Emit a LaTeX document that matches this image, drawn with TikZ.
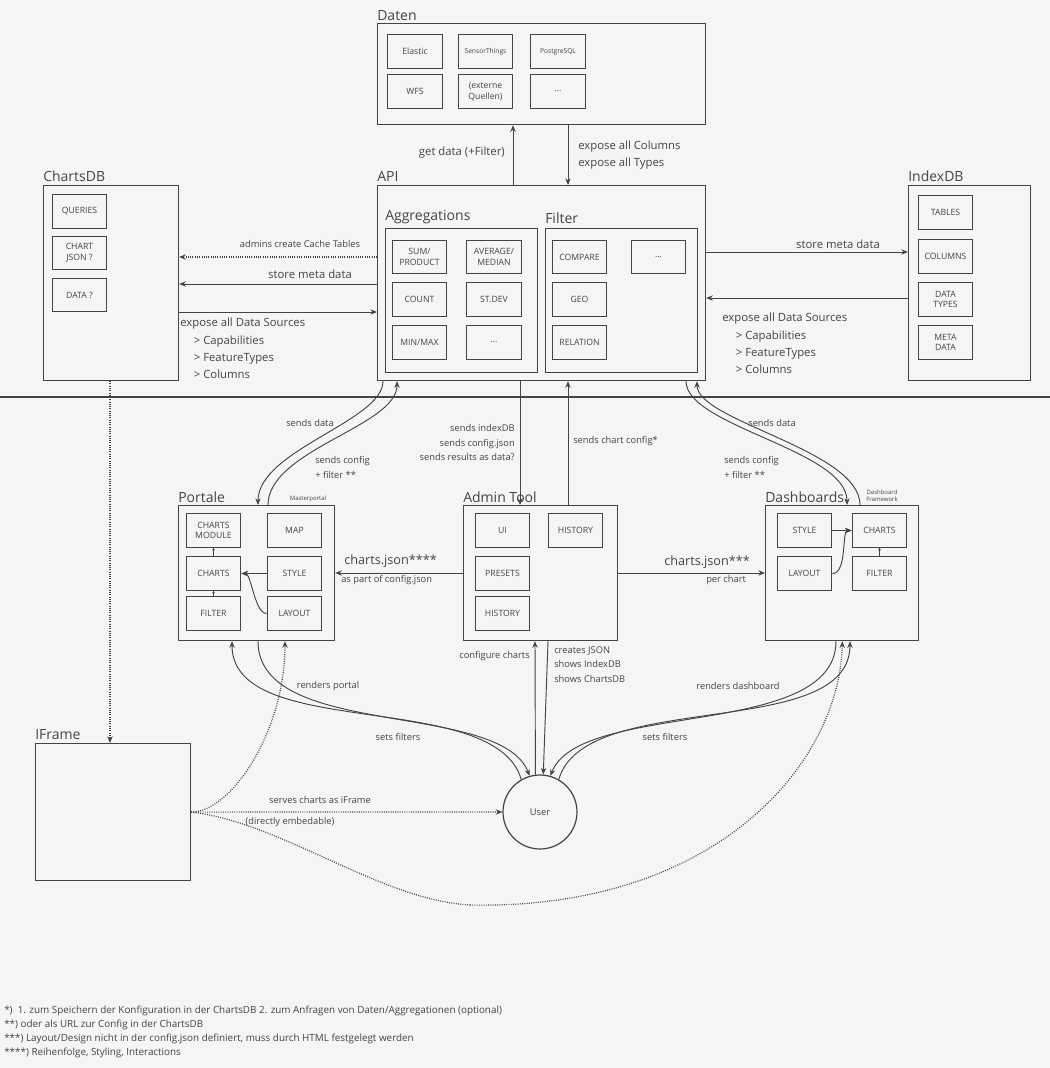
\documentclass[tikz,border=0pt]{standalone}
\usepackage{fontspec}
\setmainfont{Open Sans}
\usetikzlibrary{arrows.meta}
\definecolor{bg}{HTML}{F5F5F5}
\definecolor{ln}{HTML}{444444}
\begin{document}
\begin{tikzpicture}[x=0.75pt,y=-0.75pt,
  bx/.style 2 args={draw=ln,line width=0.9pt,minimum width=#1*0.75pt,minimum height=#2*0.75pt,anchor=north west,inner sep=0pt},
  ib/.style={draw=ln,line width=0.8pt,minimum width=41pt,minimum height=25pt,inner sep=1pt,align=center,font=\fontsize{6.5}{8}\selectfont,text=ln},
  ttl/.style={anchor=south west,inner sep=0pt,font=\fontsize{10.5}{12}\selectfont,text=ln},
  lbl/.style={inner sep=0pt,font=\fontsize{8.5}{13}\selectfont,text=ln,align=left},
  sl/.style={inner sep=0pt,font=\fontsize{7}{11}\selectfont,text=ln,align=left},
  tiny/.style={inner sep=0pt,font=\fontsize{4.5}{5.5}\selectfont,text=ln,align=center},
  arr/.style={draw=ln,line width=0.7pt,-{Stealth[length=5pt,width=4pt]}},
  dot/.style={arr,densely dotted,line width=0.9pt}]
\fill[bg] (0,0) rectangle (1050,1068);
\useasboundingbox (0,0) rectangle (1050,1068);
\draw[ln,line width=0.8pt] (0,397) -- (1050,397);

% Daten
\node[bx={328}{101}] (daten) at (377,23) {};
\node[ttl] (tdaten) at (377,21) {Daten};
\node[ib] (elastic) at (415,51.5) {Elastic};
\node[ib,font=\fontsize{5}{6}\selectfont] (sensor) at (485.5,51.5) {SensorThings};
\node[ib,font=\fontsize{5}{6}\selectfont] (pg) at (558,51.5) {PostgreSQL};
\node[ib] (wfs) at (415,91.5) {WFS};
\node[ib] (ext) at (485.5,91.5) {(externe\\Quellen)};
\node[ib] (dd) at (558,91.5) {...};

% API
\node[bx={328}{195}] (api) at (377,185) {};
\node[ttl] (tapi) at (377,182) {API};
\node[ttl] (tagg) at (385,224) {Aggregations};
\node[bx={152}{144}] (agg) at (385,228) {};
\node[ttl] (tfil) at (545,224) {Filter};
\node[bx={152}{144}] (fil) at (545,228) {};
\node[ib] (sum) at (419.5,257) {SUM/\\PRODUCT};
\node[ib] (avg) at (494,257) {AVERAGE/\\MEDIAN};
\node[ib] (count) at (419.5,299.5) {COUNT};
\node[ib] (stdev) at (494,299.5) {ST.DEV};
\node[ib] (minmax) at (419.5,342.5) {MIN/MAX};
\node[ib] (ad) at (494,342.5) {...};
\node[ib] (compare) at (579.5,257) {COMPARE};
\node[ib] (fd) at (658.5,257) {...};
\node[ib] (geo) at (579.5,299.5) {GEO};
\node[ib] (rel) at (579.5,342.5) {RELATION};

% ChartsDB
\node[bx={135}{195}] (cdb) at (43,185) {};
\node[ttl] (tcdb) at (43,182) {ChartsDB};
\node[ib] (queries) at (79.5,211.5) {QUERIES};
\node[ib] (cjson) at (79.5,253) {CHART\\JSON ?};
\node[ib] (cdata) at (79.5,295) {DATA ?};

% IndexDB
\node[bx={122}{195}] (idb) at (908,185) {};
\node[ttl] (tidb) at (908,182) {IndexDB};
\node[ib] (tables) at (945.5,212.5) {TABLES};
\node[ib] (columns) at (945.5,256.5) {COLUMNS};
\node[ib] (dtypes) at (945.5,299.5) {DATA\\TYPES};
\node[ib] (meta) at (945.5,342.5) {META\\DATA};

% Daten <-> API
\draw[arr] ([xshift=102pt]api.north west) -- ([xshift=102pt]daten.south west);
\draw[arr] ([xshift=143.25pt]daten.south west) -- ([xshift=143.25pt]api.north west);
\node[lbl,anchor=east] (lgd) at (505,153) {get data (+Filter)};
\node[lbl,anchor=west] (lex) at (578,155) {expose all Columns\\expose all Types};

% API <-> ChartsDB
\draw[dot] ([yshift=-54pt]api.north west) -- ([yshift=-54pt]cdb.north east);
\draw[arr] ([yshift=-74.25pt]api.north west) -- ([yshift=-74.25pt]cdb.north east);
\draw[arr] ([yshift=-95.25pt]cdb.north east) -- ([yshift=-95.25pt]api.north west);
\node[sl] (lcache) at (300,244) {admins create Cache Tables};
\node[lbl] (lstore1) at (310,274) {store meta data};
\node[lbl,anchor=north west] (lexp1) at (180,318) {expose all Data Sources\\\hspace*{1.2em}> Capabilities\\\hspace*{1.2em}> FeatureTypes\\\hspace*{1.2em}> Columns};

% API <-> IndexDB
\draw[arr] ([yshift=-50.25pt]api.north east) -- ([yshift=-50.25pt]idb.north west);
\draw[arr] ([yshift=-84.75pt]idb.north west) -- ([yshift=-84.75pt]api.north east);
\node[lbl] (lstore2) at (838,244) {store meta data};
\node[lbl,anchor=north west] (lexp2) at (722,313) {expose all Data Sources\\\hspace*{1.2em}> Capabilities\\\hspace*{1.2em}> FeatureTypes\\\hspace*{1.2em}> Columns};

% Portale
\node[bx={156}{135}] (portale) at (178,505) {};
\node[ttl] (tport) at (178,503) {Portale};
\node[tiny,anchor=south] (lmp) at (308,502) {Masterportal};
\node[ib] (pcm) at (213.5,530.5) {CHARTS\\MODULE};
\node[ib] (pmap) at (294.5,530.5) {MAP};
\node[ib] (pch) at (213.5,573.5) {CHARTS};
\node[ib] (psty) at (294.5,573.5) {STYLE};
\node[ib] (pfil) at (213.5,613.5) {FILTER};
\node[ib] (play) at (294.5,613.5) {LAYOUT};
\draw[arr,-{Stealth[length=2pt,width=2pt]}] (pch) -- (pcm);
\draw[arr,-{Stealth[length=2pt,width=2pt]}] (pfil) -- (pch);
\draw[arr] (psty) -- (pch);
\draw[arr] (play.west) .. controls +(-12,0) and +(10,0) .. (pch.east);

% Admin Tool
\node[bx={154}{135}] (admin) at (463,505) {};
\node[ttl] (tadm) at (463,503) {Admin Tool};
\node[ib] (ui) at (502.5,530.5) {UI};
\node[ib] (hist1) at (575.5,530.5) {HISTORY};
\node[ib] (presets) at (502.5,573.5) {PRESETS};
\node[ib] (hist2) at (502.5,613.5) {HISTORY};

% Dashboards
\node[bx={153}{135}] (dash) at (765,505) {};
\node[ttl] (tdash) at (765,503) {Dashboards};
\node[tiny,anchor=south] (ldf) at (882,502) {Dashboard\\Framework};
\node[ib] (dsty) at (804.5,530.5) {STYLE};
\node[ib] (dch) at (879.5,530.5) {CHARTS};
\node[ib] (dlay) at (804.5,573.5) {LAYOUT};
\node[ib] (dfil) at (879.5,573.5) {FILTER};
\draw[arr] (dsty) -- (dch);
\draw[arr] (dlay.east) .. controls +(15,0) and +(-10,0) .. (dch.west);
\draw[arr,-{Stealth[length=2pt,width=2pt]}] (dfil) -- (dch);

% Admin -> Portale / Dashboards
\draw[arr] ([yshift=-51pt]admin.north west) -- ([yshift=-51pt]portale.north east);
\draw[arr] ([yshift=-51pt]admin.north east) -- ([yshift=-51pt]dash.north west);
\node[lbl,anchor=west,font=\fontsize{9.5}{11}\selectfont] (lcj4) at (344,561) {charts.json****};
\node[sl,anchor=west] (lcj4b) at (341,580) {as part of config.json};
\node[lbl,anchor=west,font=\fontsize{9.5}{11}\selectfont] (lcj3) at (664,562) {charts.json***};
\node[sl,anchor=west] (lcj3b) at (706,580) {per chart};

% API <-> Admin
\draw[arr] ([xshift=107.25pt]api.south west) -- ([xshift=42.75pt]admin.north west);
\draw[arr] ([xshift=78.75pt]admin.north west) -- ([xshift=143.25pt]api.south west);
\node[sl,anchor=north east,align=right] (lsend) at (515,424) {sends indexDB\\sends config.json\\sends results as data?};
\node[sl,anchor=west] (lscc) at (573,441) {sends chart config*};

% API <-> Portale
\draw[arr] ([xshift=4.5pt]api.south west) .. controls +(0,40) and +(0,-55) .. ([xshift=60pt]portale.north west);
\draw[arr] ([xshift=67.5pt]portale.north west) .. controls +(0,-55) and +(0,45) .. ([xshift=15pt]api.south west);
\node[sl] (lsd1) at (310,423) {sends data};
\node[sl,anchor=north west] (lsc1) at (315,456) {sends config\\+ filter **};

% API <-> Dashboards
\draw[arr] ([xshift=231.75pt]api.south west) .. controls +(0,45) and +(0,-55) .. ([xshift=61.5pt]dash.north west);
\draw[arr] ([xshift=71.25pt]dash.north west) .. controls +(0,-55) and +(0,40) .. ([xshift=240pt]api.south west);
\node[sl] (lsd2) at (772,423) {sends data};
\node[sl,anchor=north west] (lsc2) at (724,456) {sends config\\+ filter **};

% User
\node[draw=ln,line width=0.9pt,circle,minimum size=55.5pt,inner sep=0pt,font=\fontsize{7}{9}\selectfont,text=ln] (user) at (540,812) {User};

% Portale <-> User
\draw[arr] ([xshift=60pt]portale.south west) .. controls (258,740) and (500,700) .. (user.106);
\draw[arr] (user.120) .. controls (495,688) and (232,742) .. ([xshift=40.5pt]portale.south west);
\node[sl] (lrp) at (328,686) {renders portal};
\node[sl] (lsf1) at (398,737) {sets filters};

% Admin <-> User
\draw[arr] (user.97) -- ([xshift=54pt]admin.south west);
\draw[arr] ([xshift=63.75pt]admin.south west) -- (user.85);
\node[sl,anchor=east] (lcc) at (530,656) {configure charts};
\node[sl,anchor=north west] (lcj) at (554,646) {creates JSON\\shows IndexDB\\shows ChartsDB};

% Dashboards <-> User
\draw[arr] ([xshift=53.25pt]dash.south west) .. controls (836,740) and (580,700) .. (user.74);
\draw[arr] (user.60) .. controls (585,688) and (850,742) .. ([xshift=63.75pt]dash.south west);
\node[sl] (lrd) at (738,686) {renders dashboard};
\node[sl] (lsf2) at (665,737) {sets filters};

% IFrame
\node[bx={155}{137}] (iframe) at (35,743) {};
\node[ttl] (tif) at (35,740) {IFrame};
\coordinate (cdbb) at ([xshift=50.25pt]cdb.south west);
\draw[dot] (cdbb) -- (cdbb |- iframe.north);
\draw[dot] (iframe.east) -- (user.west);
\node[sl] (lserve) at (320,800) {serves charts as iFrame};
\node[sl] (lemb) at (290,822) {(directly embedable)};
\draw[dot] (iframe.east) .. controls +(40,0) and +(0,90) .. ([xshift=80.25pt]portale.south west);
\coordinate (dip) at (470,905);
\draw[dot,-] (iframe.east) .. controls +(90,10) and (380,900) .. (dip);
\draw[dot] (dip) .. controls (720,910) and (840,760) .. ([xshift=58pt]dash.south west);

% Footnotes
\node[sl,anchor=north west,font=\fontsize{7.4}{10.5}\selectfont] (fn) at (4,1006) {*)\ \ 1. zum Speichern der Konfiguration in der ChartsDB 2. zum Anfragen von Daten/Aggregationen (optional)\\**) oder als URL zur Config in der ChartsDB\\***) Layout/Design nicht in der config.json definiert, muss durch HTML festgelegt werden\\****) Reihenfolge, Styling, Interactions};
\end{tikzpicture}
\end{document}
